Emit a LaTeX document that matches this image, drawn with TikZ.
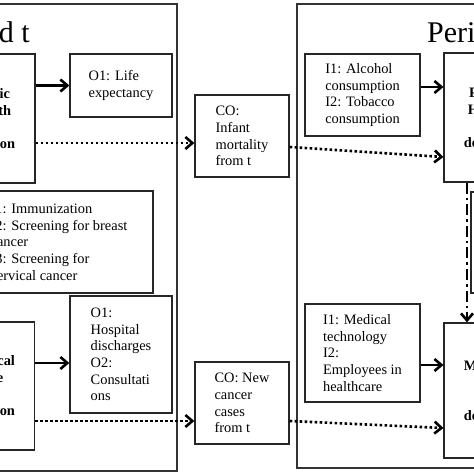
\documentclass[tikz,border=0pt]{standalone}
\usepackage{fontspec}
\setmainfont{Liberation Serif}
\usetikzlibrary{arrows.meta}

\begin{document}
\begin{tikzpicture}[x=1pt, y=-1pt, >={Straight Barb[length=7pt,width=12pt]},
  every node/.style={font=\fontsize{14.4}{16.7}\selectfont},
  box/.style={draw=black!85, line width=1.3pt, inner sep=0pt, align=left},
  dimbox/.style={box, font=\fontsize{14.4}{16.7}\selectfont\bfseries, align=center},
  frame/.style={draw=black!80, line width=1.5pt},
  title/.style={font=\fontsize{30}{36}\selectfont, inner sep=0pt},
  flow/.style={->, line width=2.6pt},
  effect/.style={->, line width=2.6pt, dash pattern=on 2.6pt off 2.4pt},
  lag/.style={->, line width=2.6pt, dash pattern=on 11pt off 4pt on 2.6pt off 4pt}]
  \useasboundingbox (0,0) rectangle (474,474);
  \clip (0,0) rectangle (474,474);

  % Period t
  \draw[frame] (-200,4) rectangle (177,471);
  \node[title, anchor=base east] (titleL) at (30,42) {Period t};
  \node[dimbox, minimum width=89pt, minimum height=129pt] (pubL) at (-9.6,118.5) {Public\\Health\\–\\decision};
  \node[box, minimum width=102pt, minimum height=63pt] (life) at (121,85.5) {O1: Life\\expectancy};
  \node[box, minimum width=188pt, minimum height=102pt] (imm) at (59,242) {I1: Immunization\\I2: Screening for breast\\cancer\\I3: Screening for\\cervical cancer};
  \node[box, minimum width=102pt, minimum height=117pt] (hosp) at (121,354.5) {O1:\\Hospital\\discharges\\O2:\\Consultati\\ons};
  \node[dimbox, minimum width=89pt, minimum height=128pt] (medL) at (-9.8,386) {Medical\\care\\–\\decision};

  % Outcomes carried over
  \node[box, minimum width=94pt, minimum height=82pt] (inf) at (242,136) {CO:\\Infant\\mortality\\from t};
  \node[box, minimum width=94pt, minimum height=82pt] (canc) at (242,403) {CO: New\\cancer\\cases\\from t};

  % Period t+1
  \draw[frame] (297,4) rectangle (700,468);
  \node[title, anchor=base west] (titleR) at (427,42) {Period t+1};
  \node[box, line width=2.8pt, minimum width=115pt, minimum height=82pt] (alc) at (362.5,95) {I1: Alcohol\\consumption\\I2: Tobacco\\consumption};
  \node[dimbox, minimum width=89pt, minimum height=129pt] (pubR) at (488.6,117.5) {Public\\Health\\–\\decision};
  \node[box, minimum width=188pt, minimum height=101pt] (immR) at (565,242.5) {};
  \node[box, minimum width=115pt, minimum height=98pt] (tech) at (362.5,353) {I1: Medical\\technology\\I2:\\Employees in\\healthcare};
  \node[dimbox, minimum width=89pt, minimum height=135pt] (medR) at (488.6,390.5) {Medical\\care\\–\\decision};

  % Arrows
  \draw[flow] (pubL.east |- life.west) -- (life.west);
  \draw[flow] ([yshift=23pt]medL.east) -- ([yshift=23pt]medL.east -| hosp.west);
  \draw[flow] ([yshift=8pt]alc.east) -- ([yshift=8pt]alc.east -| pubR.west);
  \draw[flow] ([yshift=-12pt]tech.east) -- ([yshift=-12pt]tech.east -| medR.west);
  \draw[effect] ([yshift=-24.5pt]pubL.east) -- ([yshift=-7pt]inf.west);
  \draw[effect] ([yshift=-11pt]inf.east) -- ([yshift=-39.5pt]pubR.west);
  \draw[effect] ([yshift=-35pt]medL.east) -- ([yshift=-18pt]canc.west);
  \draw[effect] ([yshift=-18pt]canc.east) -- ([yshift=-37.5pt]medR.west);
  \draw[lag] ([xshift=-21.6pt]pubR.south) -- ([xshift=-21.6pt]pubR.south |- medR.north);
\end{tikzpicture}
\end{document}
